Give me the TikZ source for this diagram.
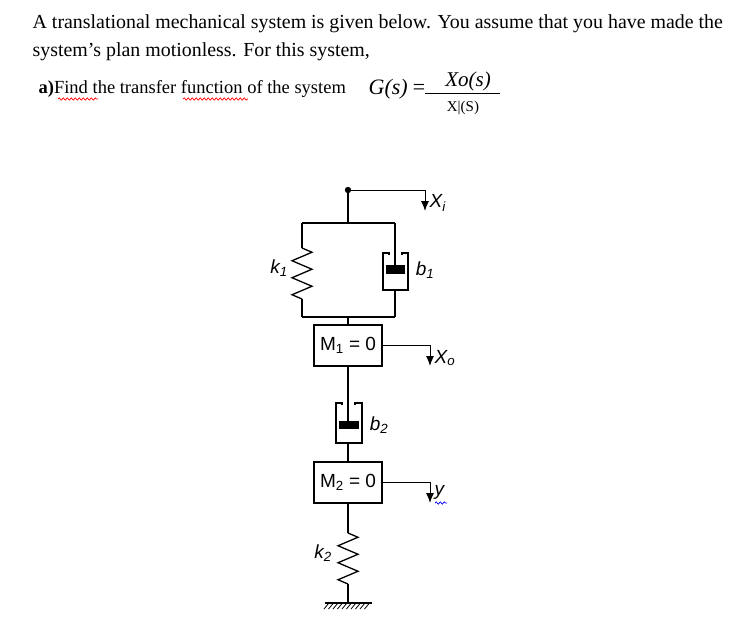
\documentclass[tikz,border=0pt]{standalone}
\usepackage{fontspec}
\setmainfont{Liberation Serif}
\newfontfamily\arialf{Liberation Sans}
\usetikzlibrary{decorations.pathmorphing,arrows.meta}
\begin{document}
\begin{tikzpicture}[x=1pt,y=-1pt,line width=1.3pt,
  txt/.style={anchor=base west,inner sep=0pt,font=\fontsize{19.9}{22}\selectfont},
  lab/.style={inner sep=0pt,font=\arialf\fontsize{19}{21}\selectfont},
  mass/.style={draw,minimum width=68pt,minimum height=41pt,inner sep=0pt,font=\arialf\fontsize{19}{21}\selectfont},
  spr/.style={decorate,decoration={zigzag,segment length=17pt,amplitude=10pt}},
  arr/.style={-{Latex[length=10pt,width=8pt]}},
  squig/.style={decorate,decoration={snake,segment length=4pt,amplitude=1.2pt},line width=0.7pt}]
\useasboundingbox (0,0) rectangle (729,643);
\node[txt] (l1) at (32,28) {A translational mechanical system is given below. You assume that you have made the};
\node[txt] (l2) at (32,56) {system's plan motionless. For this system,};
\node[txt,font=\fontsize{18.5}{20}\selectfont] (l3) at (38,93) {\textbf{a)}Find the transfer function of the system};
\draw[squig,red] (58,99) -- (98,99);
\draw[squig,red] (183,99) -- (248,99);
\node[lab,anchor=base west,font=\itshape\fontsize{22}{24}\selectfont] (gs) at (368,94) {G(s)\,=};
\node[lab,anchor=base,font=\itshape\fontsize{21}{23}\selectfont] (num) at (468,86) {Xo(s)};
\coordinate (fl) at (425,93); \coordinate (fr) at (500,93);
\draw[line width=1pt] (fl) -- (fr);
\node[lab,anchor=base,font=\fontsize{15}{17}\selectfont] (den) at (463,111) {X|(S)};

% top input
\coordinate (dot) at (348,190);
\fill (dot) circle (3.2pt);
\coordinate (xi1) at (425,190); \coordinate (xi2) at (425,211);
\draw[line width=1pt] (dot) -- (xi1);
\draw[arr,line width=1pt] (xi1) -- (xi2);
\node[lab,anchor=west] (xi) at (429,203) {\itshape X\textsubscript{\itshape i}};
\coordinate (tc) at (348,223); \coordinate (tl) at (302,223); \coordinate (tr) at (395,223);
\draw (dot) -- (tc); \draw (tl) -- (tr);
\coordinate (bl) at (302,317); \coordinate (br) at (395,317); \coordinate (bc) at (348,317);
\draw (bl) -- (br);
% spring k1
\coordinate (s1a) at (302,248); \coordinate (s1b) at (302,299);
\draw (tl) -- (s1a); \draw[spr] (s1a) -- (s1b); \draw (s1b) -- (bl);
\node[lab] (k1) at (279,268) {\itshape k\textsubscript{\itshape 1}};
% damper b1
\draw (tr) -- (395,268);
\fill (386,265) rectangle (405,274);
\draw (389,255) -- (389,253) -- (383,253) -- (383,290) -- (408,290) -- (408,253) -- (402,253) -- (402,255);
\draw (395,290) -- (br);
\node[lab] (b1) at (425,270) {\itshape b\textsubscript{\itshape 1}};
% M1
\node[mass] (m1) at (348,345.5) {M\textsubscript{1} = 0};
\draw (bc) -- (m1.north);
\coordinate (xo1) at (430,345); \coordinate (xo2) at (430,366);
\draw[line width=0.8pt] (m1.east |- xo1) -- (xo1);
\draw[arr,line width=1pt] (xo1) -- (xo2);
\node[lab,anchor=west] (xo) at (434,358) {\itshape X\textsubscript{\itshape o}};
% damper b2
\draw (m1.south) -- (348,424);
\fill (339,421) rectangle (359,429);
\draw (342,405) -- (342,403) -- (336,403) -- (336,443) -- (362,443) -- (362,403) -- (355,403) -- (355,405);
\node[mass] (m2) at (348,482.5) {M\textsubscript{2} = 0};
\draw (348,443) -- (m2.north);
\node[lab] (b2) at (379,425) {\itshape b\textsubscript{2}};
\coordinate (y1) at (430,482); \coordinate (y2) at (430,503);
\draw[line width=0.8pt] (m2.east |- y1) -- (y1);
\draw[arr,line width=1pt] (y1) -- (y2);
\node[lab,anchor=west] (yl) at (434,492) {\itshape y};
\draw[squig,blue] (435,503) -- (447,503);
% spring k2
\coordinate (s2a) at (348,533); \coordinate (s2b) at (348,584); \coordinate (g) at (348,603);
\draw (m2.south) -- (s2a); \draw[spr] (s2a) -- (s2b); \draw (s2b) -- (g);
\node[lab] (k2) at (323,553) {\itshape k\textsubscript{2}};
\draw (325,603) -- (372,603);
\foreach \i in {0,...,9} \draw[line width=0.8pt] (329+\i*4.5,603) -- ++(-5,6);
\end{tikzpicture}
\end{document}
